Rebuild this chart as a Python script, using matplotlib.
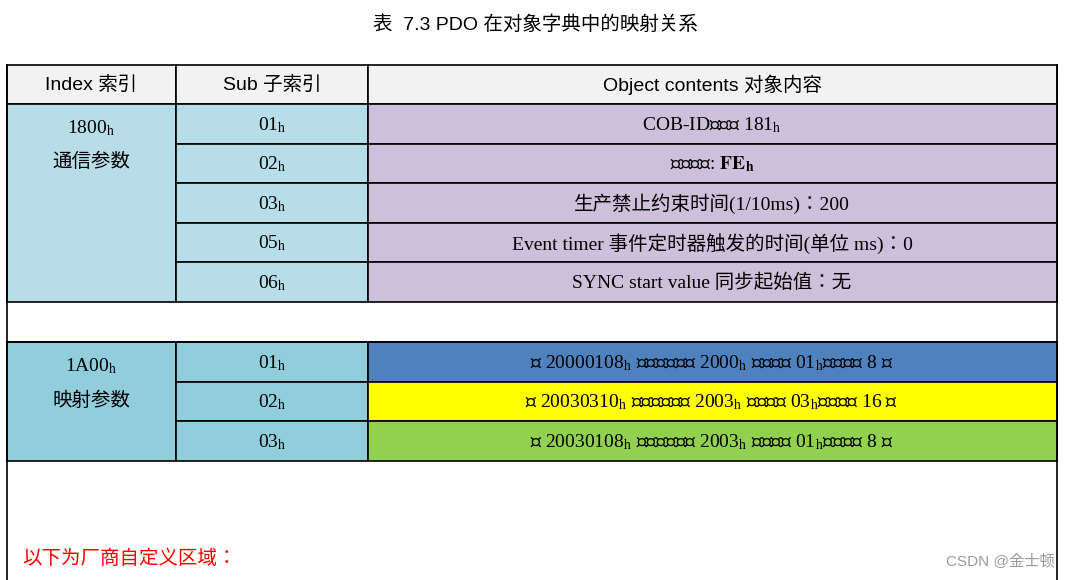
import matplotlib.pyplot as plt
from matplotlib.patches import Rectangle
from matplotlib import font_manager

# pick whatever CJK family matplotlib actually registered
cjk_names = sorted({f.name for f in font_manager.fontManager.ttflist if 'CJK' in f.name})
cjk = next((n for n in cjk_names if 'SC' in n), cjk_names[0] if cjk_names else 'DejaVu Sans')

plt.rcParams['font.family'] = ['Liberation Serif', cjk]
plt.rcParams['mathtext.fontset'] = 'stix'

title = '表  7.3 PDO 在对象字典中的映射关系'
headers = ['Index 索引', 'Sub 子索引', 'Object contents 对象内容']

comm_index = ['1800$_\\mathrm{h}$', '通信参数']
comm_sub = ['01', '02', '03', '05', '06']
comm_contents = ['COB-ID：值为 181$_\\mathrm{h}$',
                 '发送类型: $\\mathbf{FE}_\\mathbf{h}$',
                 '生产禁止约束时间(1/10ms)：200',
                 'Event timer 事件定时器触发的时间(单位 ms)：0',
                 'SYNC start value 同步起始值：无']

map_index = ['1A00$_\\mathrm{h}$', '映射参数']
map_sub = ['01', '02', '03']
map_contents = ['值 20000108$_\\mathrm{h}$ 为映射到索引 2000$_\\mathrm{h}$ 的子索引 01$_\\mathrm{h}$，对象是 8 位',
                '值 20030310$_\\mathrm{h}$ 为映射到索引 2003$_\\mathrm{h}$ 的子索引 03$_\\mathrm{h}$，对象是 16 位',
                '值 20030108$_\\mathrm{h}$ 为映射到索引 2003$_\\mathrm{h}$ 的子索引 01$_\\mathrm{h}$，对象是 8 位']
map_colors = ['#4F81BD', '#FFFF00', '#92D050']

footer = '以下为厂商自定义区域：'
watermark = 'CSDN @金士顿'

fig = plt.figure(figsize=(10.7, 5.8), dpi=100)
ax = fig.add_axes([0, 0, 1, 1])
ax.set_xlim(0, 1070)
ax.set_ylim(580, 0)
ax.axis('off')

cols = [7, 176, 368, 1057]


def cell(x0, y0, x1, y1, color):
    ax.add_patch(Rectangle((x0, y0), x1 - x0, y1 - y0, facecolor=color,
                           edgecolor='black', linewidth=1.2))


ax.text(535, 25, title, ha='center', va='center', fontsize=14,
        family=['Liberation Sans', cjk])

# outer frame
ax.plot([7, 7], [65, 580], color='black', lw=1.2)
ax.plot([1057, 1057], [65, 580], color='black', lw=1.2)

# header
for i, h in enumerate(headers):
    cell(cols[i], 65, cols[i + 1], 104, '#F2F2F2')
    ax.text((cols[i] + cols[i + 1]) / 2, 85, h, ha='center', va='center',
            fontsize=14, family=['Liberation Sans', cjk])

# communication block
rh = 39.6
y0 = 104
cell(cols[0], y0, cols[1], y0 + rh * len(comm_sub), '#B7DDE8')
ax.text(91, 128, comm_index[0], ha='center', va='center', fontsize=14)
ax.text(91, 162, comm_index[1], ha='center', va='center', fontsize=14)
for k, (s, c) in enumerate(zip(comm_sub, comm_contents)):
    ya = y0 + k * rh
    cell(cols[1], ya, cols[2], ya + rh, '#B7DDE8')
    cell(cols[2], ya, cols[3], ya + rh, '#CCC0DA')
    ax.text(272, ya + rh / 2 + 1, s + '$_\\mathrm{h}$', ha='center', va='center', fontsize=14)
    ax.text(712, ya + rh / 2 + 1, c, ha='center', va='center', fontsize=14)

ax.plot([7, 1057], [342, 342], color='black', lw=1.2)

# mapping block
y0 = 342
cell(cols[0], y0, cols[1], y0 + rh * len(map_sub), '#92CDDC')
ax.text(91, 366, map_index[0], ha='center', va='center', fontsize=14)
ax.text(91, 401, map_index[1], ha='center', va='center', fontsize=14)
for k, (s, c, col) in enumerate(zip(map_sub, map_contents, map_colors)):
    ya = y0 + k * rh
    cell(cols[1], ya, cols[2], ya + rh, '#92CDDC')
    cell(cols[2], ya, cols[3], ya + rh, col)
    ax.text(272, ya + rh / 2 + 1, s + '$_\\mathrm{h}$', ha='center', va='center', fontsize=14)
    ax.text(712, ya + rh / 2 + 1, c, ha='center', va='center', fontsize=14)

ax.text(22, 558, footer, ha='left', va='center', fontsize=14, color='#FF0000',
        family=[cjk])
ax.text(1055, 561, watermark, ha='right', va='center', fontsize=11, color='#999999',
        family=['Liberation Sans', cjk])

fig.savefig('out.png', dpi=100)
